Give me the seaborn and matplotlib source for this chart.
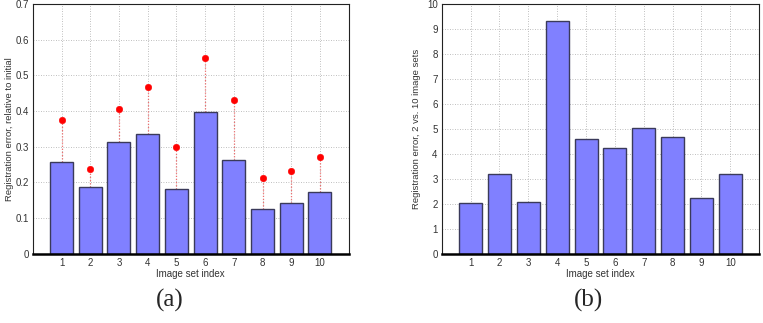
import numpy as np
import pandas as pd
import seaborn as sns
import matplotlib.pyplot as plt

idx = list(range(1, 11))
rel_err = [0.257, 0.187, 0.312, 0.335, 0.181, 0.397, 0.262, 0.126, 0.142, 0.173]
init_err = [0.374, 0.239, 0.405, 0.467, 0.299, 0.549, 0.432, 0.213, 0.232, 0.271]
err_2v10 = [2.05, 3.20, 2.08, 9.33, 4.60, 4.23, 5.05, 4.67, 2.25, 3.20]

sns.set_style("white")
plt.rcParams['font.family'] = ['Liberation Sans', 'DejaVu Sans']

df_a = pd.DataFrame({"idx": idx, "err": rel_err, "init": init_err})
df_b = pd.DataFrame({"idx": idx, "err": err_2v10})

fig = plt.figure(figsize=(7.63, 3.23), dpi=100)
ax1 = fig.add_axes([0.043, 0.214, 0.414, 0.774])
ax2 = fig.add_axes([0.579, 0.214, 0.416, 0.774])

bar_kw = dict(color="#8080ff", edgecolor="#3a3a5a", linewidth=1.0, width=0.8,
              native_scale=True, saturation=1)

# (a)
ax1.vlines(df_a["idx"], df_a["err"], df_a["init"], colors="#ee7070",
           linestyles=(0, (1, 1.5)), linewidth=0.9, zorder=1)
sns.barplot(data=df_a, x="idx", y="err", ax=ax1, zorder=2, **bar_kw)
sns.scatterplot(data=df_a, x="idx", y="init", ax=ax1, color="red",
                s=22, edgecolor="red", zorder=3)
ax1.set_ylim(0, 0.7)
ax1.set_yticks(np.arange(0, 0.71, 0.1))
ax1.set_yticklabels(["0"] + [f"{v:.1f}" for v in np.arange(0.1, 0.71, 0.1)])
ax1.set_ylabel("Registration error, relative to initial", fontsize=6.8, labelpad=1)

# (b)
sns.barplot(data=df_b, x="idx", y="err", ax=ax2, zorder=2, **bar_kw)
ax2.set_ylim(0, 10)
ax2.set_yticks(range(0, 11))
ax2.set_ylabel("Registration error, 2 vs. 10 image sets", fontsize=6.8, labelpad=4)

for ax in (ax1, ax2):
    ax.set_xlim(0, 11)
    ax.set_xticks(idx)
    ax.set_xticklabels([str(i) for i in idx])
    ax.set_xlabel("Image set index", fontsize=7, labelpad=1)
    ax.tick_params(labelsize=7, length=2, direction="in", pad=3, colors="#333333")
    ax.grid(True, color="#aaaaaa", linestyle=(0, (1, 2)), linewidth=0.6)
    ax.set_axisbelow(True)
    for s in ax.spines.values():
        s.set_color("#222222")
        s.set_linewidth(0.8)
    ax.spines["bottom"].set_linewidth(1.8)
    ax.spines["bottom"].set_color("black")
    ax.xaxis.label.set_color("#333333")
    ax.yaxis.label.set_color("#333333")

fig.text(0.222, 0.07, "(a)", fontsize=18, family="Liberation Serif", ha="center", va="center")
fig.text(0.771, 0.07, "(b)", fontsize=18, family="Liberation Serif", ha="center", va="center")

fig.savefig("out.png", dpi=100)
